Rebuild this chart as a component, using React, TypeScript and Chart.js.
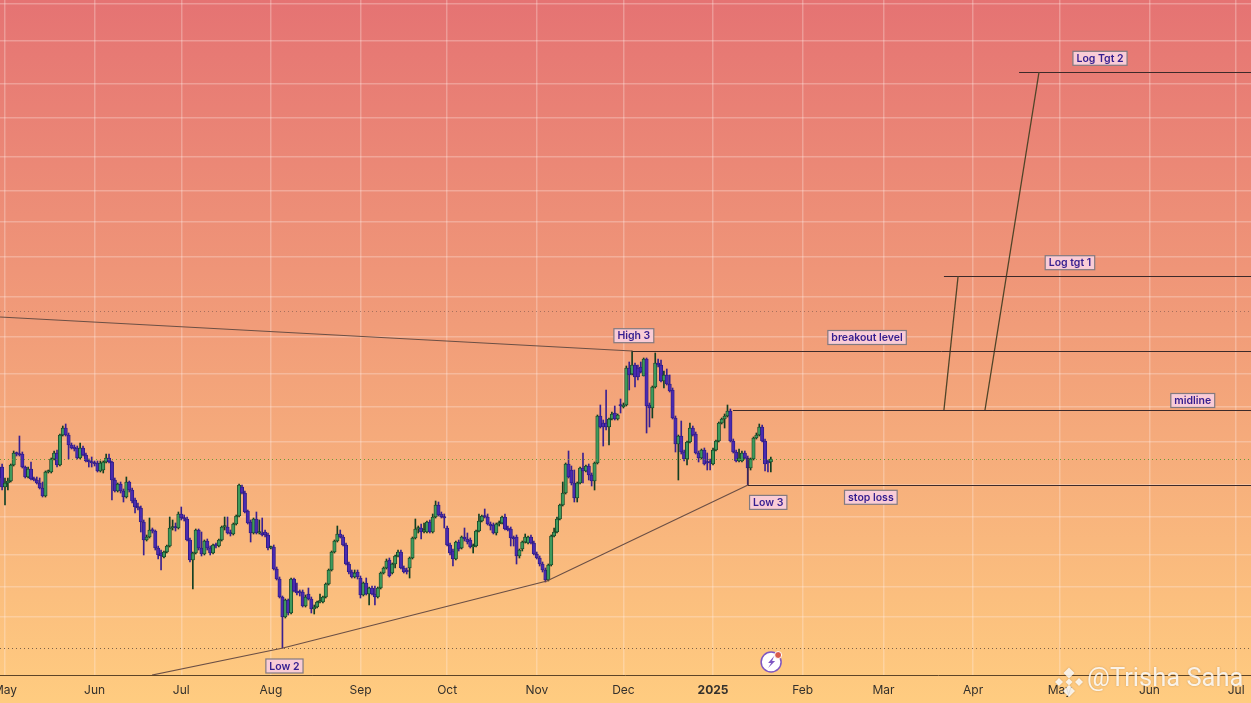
import { useEffect, useRef } from 'react';
import { Chart, registerables } from 'chart.js';

Chart.register(...registerables);

// days counted from 1 May 2024, price read as a relative level above the axis
const firstCandleDay = -2;
const opens = [
  208, 208, 188, 192, 194, 210, 222, 221, 221, 208, 198, 206, 196, 195, 192, 187, 179, 203, 203, 216,
  222, 210, 240, 247, 240, 230, 228, 227, 217, 227, 220, 214, 213, 212, 212, 204, 205, 213, 217, 213,
  195, 184, 191, 184, 178, 193, 185, 175, 168, 167, 153, 135, 138, 145, 144, 127, 122, 118, 123, 129,
  147, 148, 147, 161, 157, 156, 135, 115, 122, 145, 127, 121, 134, 127, 122, 130, 129, 135, 148, 148,
  142, 141, 151, 159, 188, 182, 164, 153, 142, 156, 142, 142, 143, 140, 127, 128, 106, 96, 78, 58,
  75, 62, 96, 84, 83, 83, 69, 81, 76, 66, 68, 73, 73, 78, 91, 105, 123, 134, 141, 138,
  130, 111, 103, 98, 103, 97, 80, 92, 81, 87, 81, 78, 87, 102, 107, 115, 102, 111, 119, 123,
  107, 105, 107, 117, 137, 146, 147, 144, 143, 153, 143, 158, 170, 161, 158, 147, 130, 124, 116, 133,
  127, 138, 136, 135, 128, 129, 144, 154, 159, 158, 151, 150, 142, 151, 152, 158, 147, 146, 137, 138,
  119, 126, 133, 132, 138, 132, 121, 117, 111, 105, 95, 110, 139, 143, 156, 170, 182, 211, 205, 192,
  177, 192, 207, 204, 209, 200, 194, 212, 259, 252, 252, 248, 256, 262, 256, 270, 268, 270, 307, 301,
  310, 307, 308, 299, 316, 270, 267, 288, 312, 310, 294, 300, 291, 285, 257, 231, 239, 223, 216, 233,
  247, 241, 222, 217, 225, 213, 213, 211, 225, 234, 252, 256, 259, 264, 234, 223, 214, 214, 222, 217,
  207, 216, 237, 240, 248, 234, 213, 213,
];
const closes = [
  197, 188, 192, 194, 210, 222, 221, 220, 208, 198, 206, 196, 195, 192, 187, 179, 203, 203, 216, 222,
  210, 240, 247, 240, 230, 227, 226, 217, 227, 220, 214, 213, 212, 211, 204, 212, 213, 217, 213, 195,
  184, 191, 184, 178, 193, 185, 174, 168, 167, 153, 135, 138, 145, 144, 127, 120, 119, 123, 129, 147,
  148, 147, 161, 157, 156, 135, 115, 122, 145, 127, 121, 134, 127, 122, 130, 129, 135, 148, 148, 142,
  141, 151, 159, 190, 182, 163, 152, 142, 156, 142, 143, 140, 140, 127, 128, 106, 96, 78, 58, 75,
  62, 96, 84, 82, 82, 69, 78, 76, 66, 68, 73, 74, 78, 91, 105, 123, 134, 141, 138, 130,
  111, 103, 98, 102, 98, 80, 92, 81, 87, 81, 78, 87, 102, 107, 114, 99, 111, 119, 123, 107,
  103, 103, 117, 137, 146, 147, 143, 145, 153, 143, 158, 170, 160, 158, 157, 130, 122, 116, 133, 126,
  138, 136, 133, 128, 129, 144, 154, 159, 158, 151, 149, 142, 151, 152, 158, 146, 145, 137, 136, 119,
  125, 133, 138, 138, 132, 121, 117, 111, 105, 95, 110, 139, 143, 156, 170, 182, 211, 198, 192, 177,
  192, 207, 204, 209, 200, 194, 212, 259, 248, 248, 248, 256, 261, 256, 260, 269, 270, 307, 300, 310,
  298, 298, 303, 316, 269, 267, 288, 312, 310, 294, 300, 291, 284, 257, 231, 239, 223, 216, 233, 247,
  240, 222, 217, 225, 211, 212, 212, 225, 234, 252, 256, 259, 264, 234, 223, 214, 217, 222, 217, 207,
  216, 237, 240, 248, 234, 211, 212, 216,
];
const highs = [
  212, 211, 197, 197, 211, 224, 223, 239, 223, 209, 208, 213, 198, 198, 197, 193, 204, 205, 217, 224,
  225, 241, 249, 251, 242, 232, 230, 229, 232, 229, 222, 216, 218, 214, 214, 214, 214, 221, 221, 214,
  197, 192, 193, 186, 198, 194, 187, 177, 172, 169, 155, 140, 157, 147, 145, 129, 125, 124, 130, 158,
  155, 152, 163, 168, 160, 158, 137, 123, 146, 146, 143, 135, 136, 129, 131, 132, 136, 149, 158, 158,
  145, 152, 160, 191, 190, 184, 165, 155, 157, 163, 155, 157, 145, 142, 129, 130, 108, 98, 79, 76,
  76, 97, 97, 92, 85, 85, 80, 87, 78, 70, 74, 81, 79, 92, 106, 124, 135, 149, 145, 140,
  132, 113, 105, 105, 105, 99, 93, 97, 88, 89, 89, 88, 103, 108, 116, 117, 112, 120, 125, 125,
  109, 107, 118, 138, 156, 149, 151, 152, 154, 155, 161, 174, 173, 163, 161, 149, 132, 126, 134, 135,
  139, 147, 142, 137, 131, 145, 161, 160, 166, 161, 153, 152, 152, 154, 159, 161, 149, 148, 139, 140,
  126, 134, 141, 139, 140, 134, 123, 119, 113, 107, 111, 140, 147, 158, 171, 193, 212, 224, 209, 205,
  193, 208, 222, 210, 211, 202, 213, 260, 270, 255, 285, 257, 263, 269, 261, 276, 272, 309, 313, 324,
  312, 310, 313, 317, 317, 272, 289, 322, 316, 315, 304, 306, 300, 287, 259, 240, 254, 225, 234, 252,
  249, 243, 224, 226, 227, 222, 216, 227, 235, 253, 257, 261, 270, 266, 236, 225, 226, 224, 224, 219,
  217, 238, 242, 251, 250, 236, 215, 218,
];
const lows = [
  195, 185, 170, 185, 193, 209, 219, 219, 207, 197, 197, 195, 194, 191, 186, 178, 178, 202, 202, 215,
  208, 209, 239, 239, 216, 226, 224, 216, 216, 219, 213, 208, 208, 209, 203, 203, 202, 212, 212, 175,
  183, 183, 182, 173, 177, 183, 172, 162, 165, 143, 120, 134, 137, 142, 125, 116, 105, 117, 122, 128,
  145, 144, 146, 155, 154, 134, 113, 86, 121, 125, 119, 120, 125, 120, 121, 127, 128, 134, 145, 141,
  139, 140, 150, 158, 181, 162, 151, 133, 141, 141, 141, 139, 138, 125, 126, 105, 95, 77, 27, 57,
  60, 61, 83, 80, 79, 68, 68, 75, 62, 61, 67, 72, 72, 77, 90, 104, 122, 133, 137, 129,
  110, 101, 97, 97, 96, 77, 79, 80, 70, 80, 70, 77, 86, 101, 106, 98, 101, 107, 118, 106,
  102, 101, 97, 116, 136, 142, 136, 142, 142, 142, 142, 157, 159, 157, 147, 129, 120, 109, 115, 124,
  126, 134, 131, 127, 122, 128, 143, 153, 157, 150, 145, 141, 140, 149, 151, 145, 144, 129, 129, 111,
  117, 124, 132, 131, 131, 120, 116, 109, 103, 93, 94, 109, 138, 142, 155, 169, 181, 197, 190, 173,
  173, 191, 192, 203, 195, 189, 185, 211, 247, 229, 245, 230, 255, 255, 255, 262, 267, 269, 285, 300,
  288, 295, 302, 299, 242, 248, 257, 287, 308, 293, 287, 290, 283, 256, 223, 195, 221, 214, 210, 232,
  239, 221, 213, 216, 210, 205, 205, 210, 224, 233, 251, 247, 258, 233, 222, 213, 213, 213, 216, 190,
  205, 215, 236, 239, 233, 204, 203, 203,
];

const monthDays = [0, 31, 61, 92, 123, 153, 184, 214, 245, 276, 304, 335, 365, 396, 426];
const monthLabels = ['May', 'Jun', 'Jul', 'Aug', 'Sep', 'Oct', 'Nov', 'Dec', '2025', 'Feb', 'Mar', 'Apr', 'May', 'Jun', 'Jul'];
const gridLevels = [671.5, 634, 591, 557, 518, 484, 453, 418, 378, 338, 301, 268, 233, 190, 158, 120, 88, 58];

const highTrendDays = [-1.73, 217];
const highTrendLevels = [358, 324];
const lowTrendDays = [50.9, 96.2, 187.5, 257.1];
const lowTrendLevels = [0, 27, 94, 190];
const lowWickDays = [257.1, 257.1];
const lowWickLevels = [190, 217];
const breakoutDays = [217, 431.2];
const breakoutLevels = [323.5, 323.5];
const middleDays = [251.9, 431.2];
const middleLevels = [264.5, 264.5];
const stopDays = [257.1, 431.2];
const stopLevels = [189.5, 189.5];
const target1Days = [324.9, 329.8];
const target1Levels = [265, 399];
const target1LevelDays = [324.9, 431.2];
const target1LevelValues = [398.5, 398.5];
const target2Days = [339.1, 357.8];
const target2Levels = [265, 603];
const target2LevelDays = [350.9, 431.2];
const target2LevelValues = [602.5, 602.5];

const dottedDays = [-1.73, 431.2];
const upperDotted = [363.5, 363.5];
const lowerDotted = [26.5, 26.5];
const greenDotted = [215.5, 215.5];

const noteTexts = ['High 3', 'Low 3', 'Low 2', 'breakout level', 'midline', 'stop loss', 'Log Tgt 2', 'Log tgt 1'];
const noteDays = [217.6, 264.1, 96.7, 298.3, 411, 299.6, 378.9, 368.5];
const noteLevels = [339.3, 172.6, 9, 337.5, 274.5, 177.7, 616.7, 412.3];

const iconDay = 265.1;
const iconLevel = 13;

const toPoints = (days: number[], levels: number[]) => days.map((x, i) => ({ x, y: levels[i] }));

const lineSet = (days: number[], levels: number[], color: string, dash: number[] = [], width = 1) => ({
  type: 'line' as const,
  data: toPoints(days, levels),
  borderColor: color,
  borderWidth: width,
  borderDash: dash,
  pointRadius: 0,
  tension: 0,
  order: 0,
});

const annotations = {
  id: 'annotations',
  afterDatasetsDraw(chart: Chart) {
    const { ctx, scales } = chart;
    ctx.save();

    ctx.font = '600 10.5px Inter';
    ctx.textAlign = 'center';
    ctx.textBaseline = 'middle';
    noteTexts.forEach((text, i) => {
      const x = scales.x.getPixelForValue(noteDays[i]);
      const y = scales.y.getPixelForValue(noteLevels[i]);
      const w = ctx.measureText(text).width + 7;
      ctx.fillStyle = '#f9ccd6';
      ctx.strokeStyle = '#827a80';
      ctx.lineWidth = 1.2;
      ctx.fillRect(x - w / 2, y - 7, w, 14);
      ctx.strokeRect(x - w / 2, y - 7, w, 14);
      ctx.fillStyle = '#341d8f';
      ctx.fillText(text, x, y + 0.5);
    });

    const ix = scales.x.getPixelForValue(iconDay);
    const iy = scales.y.getPixelForValue(iconLevel);
    ctx.beginPath();
    ctx.arc(ix, iy, 10, 0, Math.PI * 2);
    ctx.fillStyle = '#ffffff';
    ctx.fill();
    ctx.strokeStyle = '#7e57c2';
    ctx.lineWidth = 1.5;
    ctx.stroke();
    ctx.beginPath();
    ctx.moveTo(ix + 3, iy - 6);
    ctx.lineTo(ix - 3, iy + 1);
    ctx.lineTo(ix, iy + 1);
    ctx.lineTo(ix - 3, iy + 6);
    ctx.lineTo(ix + 4, iy - 1);
    ctx.lineTo(ix + 1, iy - 1);
    ctx.closePath();
    ctx.fillStyle = '#7e57c2';
    ctx.fill();
    ctx.beginPath();
    ctx.arc(ix + 7, iy - 7, 3.5, 0, Math.PI * 2);
    ctx.fillStyle = '#d9594c';
    ctx.fill();
    ctx.strokeStyle = '#ffffff';
    ctx.lineWidth = 1;
    ctx.stroke();

    // watermark over the lower right corner
    ctx.shadowColor = 'rgba(90,60,20,0.35)';
    ctx.shadowBlur = 2;
    ctx.fillStyle = 'rgba(255,255,255,0.85)';
    ctx.font = '25.5px Roboto';
    ctx.textAlign = 'left';
    ctx.fillText('@Trisha Saha', 1087, 680);
    const diamonds = [[1069, 673, 5.5], [1059, 682, 4], [1079, 682, 4], [1069, 682, 3.5], [1069, 691, 6]];
    diamonds.forEach(([x, y, r]) => {
      ctx.beginPath();
      ctx.moveTo(x, y - r);
      ctx.lineTo(x + r, y);
      ctx.lineTo(x, y + r);
      ctx.lineTo(x - r, y);
      ctx.closePath();
      ctx.fill();
    });
    ctx.restore();
  },
};

const App = () => {
  const ref = useRef<HTMLCanvasElement>(null);

  useEffect(() => {
    if (ref.current == null) {
      return () => {};
    }
    const rising = closes.map((c, i) => c >= opens[i]);
    const days = opens.map((_, i) => firstCandleDay + i);

    const chart = new Chart(ref.current, {
      type: 'bar',
      data: {
        datasets: [
          lineSet(highTrendDays, highTrendLevels, '#6b4f45', [], 1.2),
          lineSet(lowTrendDays, lowTrendLevels, '#6b4f45', [], 1.2),
          lineSet(lowWickDays, lowWickLevels, '#3d2a2a'),
          lineSet(breakoutDays, breakoutLevels, '#3d2a2a'),
          lineSet(middleDays, middleLevels, '#3d2a2a'),
          lineSet(stopDays, stopLevels, '#3d2a2a'),
          lineSet(target1Days, target1Levels, '#4f4428', [], 1.3),
          lineSet(target1LevelDays, target1LevelValues, '#3d2a2a'),
          lineSet(target2Days, target2Levels, '#4f4428', [], 1.3),
          lineSet(target2LevelDays, target2LevelValues, '#3d2a2a'),
          lineSet(dottedDays, upperDotted, 'rgba(120,85,75,0.6)', [1, 3]),
          lineSet(dottedDays, lowerDotted, 'rgba(90,70,60,0.8)', [1, 3]),
          lineSet(dottedDays, greenDotted, 'rgba(95,150,50,0.9)', [1, 3]),
          {
            data: days.map((x, i) => ({ x, y: [opens[i], closes[i]] })),
            backgroundColor: rising.map((up) => (up ? '#3f9a5c' : '#4a2ab0')),
            borderColor: rising.map((up) => (up ? '#123f22' : '#2a1a80')),
            borderWidth: 0.8,
            borderSkipped: false,
            barThickness: 3.4,
            minBarLength: 1.5,
            grouped: false,
            order: 1,
          },
          {
            data: days.map((x, i) => ({ x, y: [lows[i], highs[i]] })),
            backgroundColor: rising.map((up) => (up ? '#123f22' : '#3a2090')),
            barThickness: 1,
            grouped: false,
            order: 2,
          },
        ] as any,
      },
      options: {
        animation: false,
        responsive: false,
        devicePixelRatio: 1,
        layout: { autoPadding: false, padding: 0 },
        plugins: { legend: { display: false }, tooltip: { enabled: false } },
        scales: {
          x: {
            type: 'linear',
            min: -1.73,
            max: 431.15,
            offset: false,
            grid: { color: 'rgba(255,240,235,0.3)', lineWidth: 1.5, drawTicks: false, offset: false },
            border: { display: true, color: '#5d4427', width: 1 },
            afterBuildTicks: (scale: any) => {
              scale.ticks = monthDays.map((value) => ({ value }));
            },
            afterFit: (scale: any) => {
              scale.height = 28;
              scale.paddingLeft = 0;
              scale.paddingRight = 0;
            },
            ticks: {
              autoSkip: false,
              maxRotation: 0,
              padding: 8,
              color: '#33302c',
              font: (ctx: any) => ({
                family: 'Inter',
                size: 12,
                weight: ctx.tick && ctx.tick.label === '2025' ? 'bold' : 'normal',
              }),
              callback: (_value: any, index: number) => monthLabels[index],
            },
          },
          y: {
            type: 'linear',
            min: 0,
            max: 675,
            grid: { color: 'rgba(255,240,235,0.3)', lineWidth: 1.5, drawTicks: false },
            border: { display: false },
            afterBuildTicks: (scale: any) => {
              scale.ticks = gridLevels.map((value) => ({ value }));
            },
            ticks: { display: false },
          },
        },
      } as any,
      plugins: [annotations],
    });
    return () => {
      chart.destroy();
    };
  }, []);

  return (
    <div
      style={{
        position: 'fixed',
        left: 0,
        top: 0,
        width: 1251,
        height: 703,
        background: 'linear-gradient(#e57373, #ffcc80)',
      }}
    >
      <canvas ref={ref} width={1251} height={703} style={{ display: 'block' }} />
    </div>
  );
};

export default App;
